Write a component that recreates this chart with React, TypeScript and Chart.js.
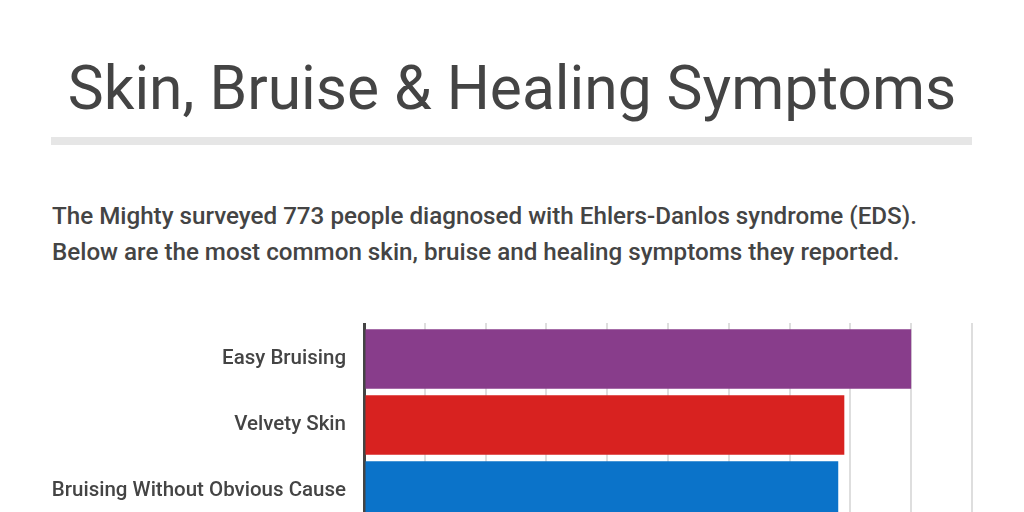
import React, { useEffect, useRef } from "react";
import Chart from "chart.js/auto";

// survey results (percent of respondents)
const categories = ["Easy Bruising", "Velvety Skin", "Bruising Without Obvious Cause"];
const percentages = [90, 79, 78];
const barColors = ["#883d8b", "#d82220", "#0b73c9"];
const axisMax = 100;
const tickStep = 10;

const title = "Skin, Bruise & Healing Symptoms";
const subtitleLines = [
  "The Mighty surveyed 773 people diagnosed with Ehlers-Danlos syndrome (EDS).",
  "Below are the most common skin, bruise and healing symptoms they reported.",
];

const textColor = "#444444";

function App() {
  const canvasRef = useRef<HTMLCanvasElement | null>(null);
  const chartRef = useRef<Chart | null>(null);

  useEffect(() => {
    const ctx = canvasRef.current!.getContext("2d")!;

    chartRef.current = new Chart(ctx, {
      type: "bar",
      data: {
        labels: categories,
        datasets: [
          {
            data: percentages,
            backgroundColor: barColors,
            borderWidth: 0,
            categoryPercentage: 0.9,
            barPercentage: 1.0,
          },
        ],
      },
      options: {
        indexAxis: "y",
        responsive: true,
        maintainAspectRatio: false,
        animation: false,
        layout: { padding: { left: 0, right: 52, top: 0, bottom: 0 } },
        plugins: {
          legend: { display: false },
          tooltip: { enabled: false },
        },
        scales: {
          x: {
            position: "top",
            min: 0,
            max: axisMax,
            ticks: { display: false, stepSize: tickStep },
            border: { display: false },
            grid: {
              drawTicks: true,
              tickLength: 3,
              color: (c: any) => (c.index === 0 ? textColor : "#dedede"),
              tickColor: (c: any) => (c.index === 0 ? textColor : "#dedede"),
              lineWidth: (c: any) => (c.index === 0 ? 3 : 2),
            },
          },
          y: {
            z: 1,
            afterFit: (scale: any) => {
              scale.width = 364;
              // no extra room above/below for half label heights
              scale.paddingTop = 0;
              scale.paddingBottom = 0;
            },
            // transparent tick marks give the gap between labels and axis
            grid: {
              display: true,
              drawOnChartArea: false,
              drawTicks: true,
              tickLength: 18,
              tickColor: "rgba(0,0,0,0)",
            },
            border: { display: true, color: textColor, width: 3 },
            ticks: {
              color: textColor,
              padding: 0,
              font: { family: "Roboto", size: 20.5, weight: 500 },
            },
          },
        },
      },
    });

    return () => {
      chartRef.current?.destroy();
    };
  }, []);

  return (
    <div
      style={{
        position: "fixed",
        left: 0,
        top: 0,
        width: 1024,
        height: 512,
        overflow: "hidden",
        background: "#ffffff",
        fontFamily: "Roboto, sans-serif",
        color: textColor,
      }}
    >
      <div
        style={{
          position: "absolute",
          left: 0,
          width: 1024,
          top: 59,
          fontSize: 60.5,
          lineHeight: "60px",
          textAlign: "center",
          fontWeight: 400,
          whiteSpace: "nowrap",
        }}
      >
        {title}
      </div>
      <div
        style={{
          position: "absolute",
          left: 51,
          top: 137,
          width: 921,
          height: 8,
          background: "#e6e6e6",
        }}
      />
      <div
        style={{
          position: "absolute",
          left: 52,
          top: 198,
          fontSize: 24.2,
          lineHeight: "36px",
          fontWeight: 500,
          whiteSpace: "nowrap",
        }}
      >
        {subtitleLines.map((line) => (
          <div key={line}>{line}</div>
        ))}
      </div>
      <div
        style={{
          position: "absolute",
          left: 0,
          top: 323,
          width: 1024,
          height: 201,
        }}
      >
        <canvas ref={canvasRef}></canvas>
      </div>
    </div>
  );
}

export default App;
